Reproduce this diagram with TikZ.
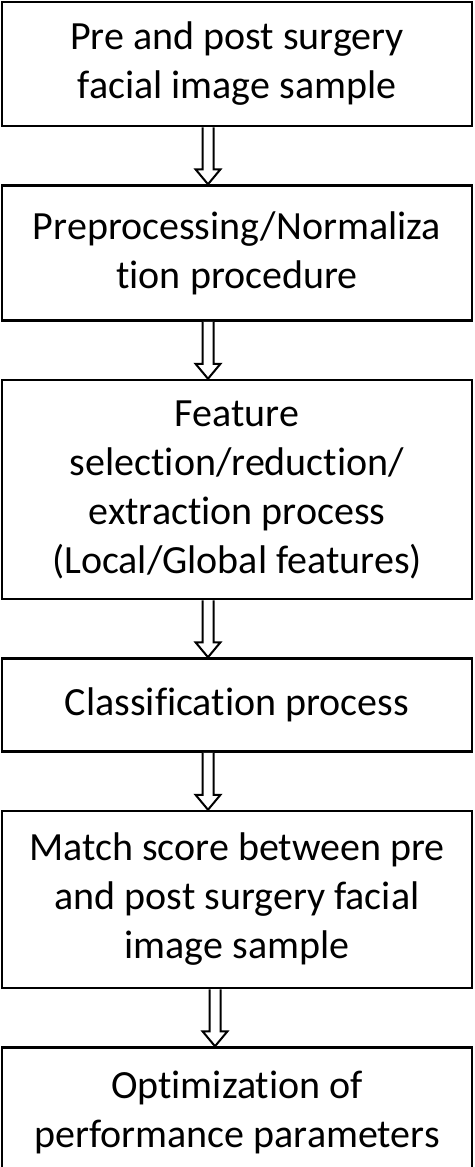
\documentclass[tikz,border=0pt]{standalone}
\usepackage{fontspec}
\setmainfont{Carlito}[Ligatures=NoCommon]
\usetikzlibrary{positioning, calc}

% hollow block arrow from one box to the next, #3 = sideways shift of the shaft
\newcommand{\flowarrow}[3]{%
  \draw[blockarrow] ($(#1.south)+(#3-5.5,0)$) -- ($(#2.north)+(#3-5.5,15)$)
    -- ($(#2.north)+(#3-12.5,15)$) -- ($(#2.north)+(#3,0)$)
    -- ($(#2.north)+(#3+12.5,15)$) -- ($(#2.north)+(#3+5.5,15)$)
    -- ($(#1.south)+(#3+5.5,0)$);
}

\begin{document}
\begin{tikzpicture}[
    x=1pt, y=1pt,
    stepbox/.style={draw=black, line width=2.5pt, fill=white, minimum width=470pt, text width=462pt, align=flush center, inner sep=0pt, font=\fontsize{40}{49}\selectfont},
    blockarrow/.style={draw=black, line width=2pt, fill=white, line join=miter},
    node distance=57pt
  ]
  \useasboundingbox (0,0) rectangle (474,-1167);

  \node[stepbox, minimum height=124pt] (sample) at (237,-64) {Pre and post surgery\\facial image sample};
  \node[stepbox, minimum height=135pt, below=of sample] (prep) {Preprocessing/Normaliza\\tion procedure};
  \node[stepbox, minimum height=219pt, below=of prep] (feature) {Feature\\selection/reduction/\\extraction process\\(Local/Global features)};
  \node[stepbox, minimum height=93pt, below=of feature] (classif) {Classification process};
  \node[stepbox, minimum height=177pt, below=of classif] (match) {Match score between pre\\and post surgery facial\\image sample};
  \node[stepbox, minimum height=130pt, below=of match] (optim) {Optimization of\\performance parameters};

  \flowarrow{sample}{prep}{-29}
  \flowarrow{prep}{feature}{-29}
  \flowarrow{feature}{classif}{-29}
  \flowarrow{classif}{match}{-29}
  \flowarrow{match}{optim}{-22}
\end{tikzpicture}
\end{document}
